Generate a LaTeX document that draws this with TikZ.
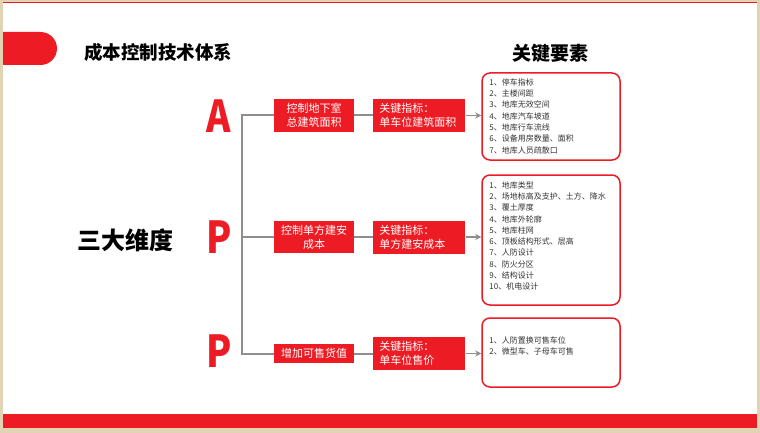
\documentclass[tikz,border=0pt]{standalone}
\usepackage{fontspec}
\setmainfont{Noto Sans CJK SC}
\usepackage{tikz}
\usetikzlibrary{arrows.meta,positioning}
\definecolor{CostRed}{HTML}{ED1C24}
\definecolor{CostGray}{HTML}{8E8E8E}
\definecolor{CostDark}{HTML}{333333}
\definecolor{CostBeige}{HTML}{E2D4B2}
\tikzset{
  redbox/.style={fill=CostRed,text=white,align=center,inner sep=0pt,minimum height=33pt,minimum width=80pt,font=\fontsize{11}{14}\selectfont},
  keybox/.style={fill=CostRed,text=white,align=left,text width=80pt,inner xsep=6pt,inner ysep=0pt,minimum height=33pt,font=\fontsize{11}{14}\selectfont},
  listbox/.style={draw=CostRed,line width=1.5pt,rounded corners=8pt,fill=white,minimum width=138pt,inner sep=0pt},
  listtext/.style={anchor=north west,align=left,inner sep=0pt,text=CostDark,font=\fontsize{8}{11.3}\selectfont},
  treeline/.style={draw=CostGray,line width=2pt},
  grayarrow/.style={-{Stealth[length=6pt,width=6pt]},draw=CostGray,line width=1.6pt},
  bigletter/.style={text=CostRed,xscale=0.84,font=\fontsize{44}{44}\selectfont\bfseries},
  headtext/.style={text=black,font=\fontsize{18.5}{18.5}\selectfont\bfseries}
}
\begin{document}
\begin{tikzpicture}[x=1pt,y=-1pt,node distance=19pt]
\fill[CostBeige] (0,0) rectangle (760,433);
\fill[white] (3,3) rectangle (757,428);
\fill[CostRed] (3,2) rectangle (757,3.5);
\fill[CostRed] (3,414) rectangle (757,428);
\useasboundingbox (0,0) rectangle (760,433);
\fill[CostRed] (3,32) [rounded corners=16.5pt] -- (57,32) -- (57,65) [sharp corners] -- (3,65) -- cycle;

\node[headtext] (title) at (158,52) {成本控制技术体系};
\node[headtext,font=\fontsize{19}{19}\selectfont\bfseries] (keyhead) at (550,53) {关键要素};
\node[headtext,font=\fontsize{24}{24}\selectfont\bfseries] (dims) at (125,240) {三大维度};

\node[bigletter] (dimA) at (219,116.5) {A};
\node[bigletter] (dimP) at (219,237) {P};
\node[bigletter] (dimQ) at (219,351) {P};

\node[redbox] (c1) at (314,115.5) {控制地下室\\总建筑面积};
\node[keybox,right=of c1] (k1) {关键指标：\\单车位建筑面积};
\node[redbox,minimum height=32pt] (c2) at (314,237) {控制单方建安\\成本};
\node[keybox,right=of c2] (k2) {关键指标：\\单方建安成本};
\node[redbox,minimum height=19pt] (c3) at (314,353.5) {增加可售货值};
\node[keybox,right=of c3] (k3) {关键指标：\\单车位售价};

\node[listbox,minimum height=87pt] (l1) at (551,116.5) {};
\node[listbox,minimum height=130pt] (l2) at (551,240) {};
\node[listbox,minimum height=69pt] (l3) at (551,352.5) {};

\node[listtext] (t1) at ([xshift=8pt,yshift=-6pt]l1.north west) {1、停车指标\\2、主楼间距\\3、地库无效空间\\4、地库汽车坡道\\5、地库行车流线\\6、设备用房数量、面积\\7、地库人员疏散口};
\node[listtext] (t2) at ([xshift=8pt,yshift=-7pt]l2.north west) {1、地库类型\\2、场地标高及支护、土方、降水\\3、覆土厚度\\4、地库外轮廓\\5、地库柱网\\6、顶板结构形式、层高\\7、人防设计\\8、防火分区\\9、结构设计\\10、机电设计};
\node[listtext] (t3) at ([xshift=8pt,yshift=-19pt]l3.north west) {1、人防置换可售车位\\2、微型车、子母车可售};

\coordinate (trunk) at (242,0);
\draw[treeline] (c1.west) -- (c1.west -| trunk) -- (c3.west -| trunk) -- (c3.west);
\draw[treeline] (c2.west -| trunk) -- (c2.west);
\draw[treeline] (c1) -- (k1);
\draw[treeline] (c2) -- (k2);
\draw[treeline] (c3) -- (k3);
\draw[grayarrow] (k1.east) -- (k1.east -| l1.west);
\draw[grayarrow] (k2.east) -- (k2.east -| l2.west);
\draw[grayarrow] (k3.east) -- (k3.east -| l3.west);
\end{tikzpicture}
\end{document}
